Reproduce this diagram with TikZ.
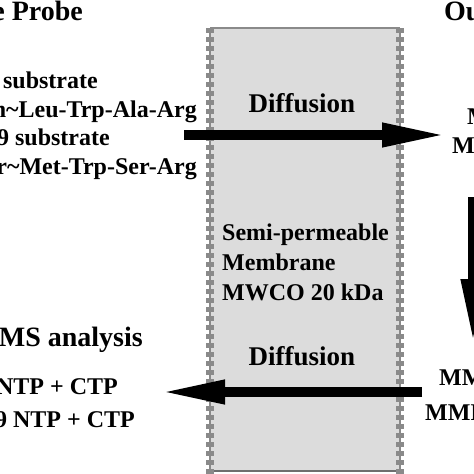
\documentclass[tikz,border=0pt]{standalone}
\usepackage{fontspec}
\setmainfont{Liberation Serif}
\usetikzlibrary{arrows.meta}
\definecolor{memfill}{HTML}{DCDCDC}
\definecolor{memedge}{HTML}{8A8A8A}
\begin{document}
\begin{tikzpicture}[x=1pt,y=-1pt,
  body/.style={font=\fontsize{24}{28}\selectfont\bfseries, inner sep=0pt},
  head/.style={font=\fontsize{28}{32}\selectfont\bfseries, inner sep=0pt},
  diff/.style={font=\fontsize{27}{31}\selectfont\bfseries, inner sep=0pt, anchor=base},
  bigarrow/.style={line width=10pt, -{Triangle[length=65pt,width=22pt]}},
  memside/.style={memedge, line width=2pt},
  memdash/.style={memedge, line width=8pt, dash pattern=on 5pt off 4pt},
]
\useasboundingbox (0,0) rectangle (474,474);
\clip (0,0) rectangle (474,474);
% membrane
\fill[memfill] (210,28) rectangle (400,471);
\draw[memedge, line width=1.5pt] (210,28) -- (400,28);
\draw[memedge!80!black, line width=2pt] (210,471) -- (400,471);
\draw[memside] (210,28) -- (210,474);
\draw[memdash] (210,28) -- (210,474);
\draw[memside] (400,28) -- (400,474);
\draw[memdash] (400,28) -- (400,474);
% left texts
\node[head, anchor=base east] (probe) at (83,20) {e Probe};
\node[body, anchor=base east] (s1) at (98,88) {2 substrate};
\node[body, anchor=base east] (s2) at (197,117) {n\textasciitilde Leu-Trp-Ala-Arg};
\node[body, anchor=base east] (s3) at (110,145) {9 substrate};
\node[body, anchor=base east] (s4) at (197,174) {r\textasciitilde Met-Trp-Ser-Arg};
\node[head, anchor=base east] (ms) at (143,346) {MS analysis};
\node[body, anchor=base east] (p1) at (118,394) {NTP + CTP};
\node[body, anchor=base east] (p2) at (135,427) {9 NTP + CTP};
% membrane texts
\node[diff] (d1) at (302,112) {Diffusion};
\node[diff] (d2) at (302,365) {Diffusion};
\node[body, anchor=base west] (m1) at (222,240) {Semi-permeable};
\node[body, anchor=base west] (m2) at (222,270) {Membrane};
\node[body, anchor=base west] (m3) at (222,300) {MWCO 20 kDa};
% right texts
\node[head, anchor=base west] (out) at (444,20) {Outside};
\node[body, anchor=base west] (r1) at (467,124) {MMP};
\node[body, anchor=base west] (r2) at (452,153) {MMP};
\node[body, anchor=base west] (r3) at (439,385) {MMP};
\node[body, anchor=base west] (r4) at (425,420) {MMP};
% arrows
\coordinate (a1s) at (184,135);
\coordinate (a1e) at (447,135);
\coordinate (a2s) at (473,197);
\coordinate (a2e) at (473,344);
\coordinate (a3s) at (422,392);
\coordinate (a3e) at (160,392);
\draw[bigarrow] (a1s) -- (a1e);
\draw[bigarrow] (a2s) -- (a2e);
\draw[bigarrow] (a3s) -- (a3e);
\end{tikzpicture}
\end{document}
